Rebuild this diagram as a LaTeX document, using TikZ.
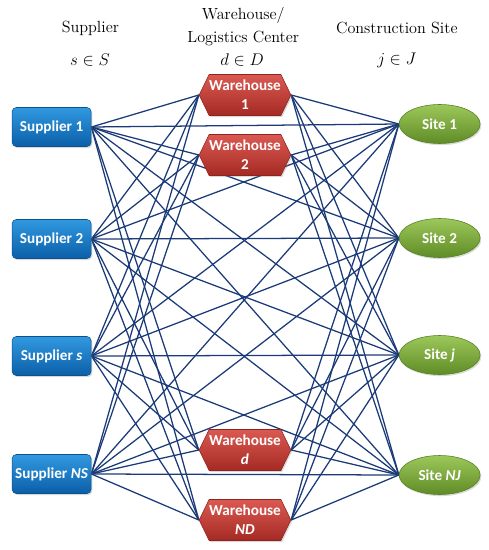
\documentclass[tikz,border=0pt]{standalone}
\usepackage{fontspec}
\newfontfamily\boxfont{Carlito}
\usepackage{tikz}
\usetikzlibrary{positioning}
\usetikzlibrary{shapes.geometric}
\usetikzlibrary{shapes.symbols}
\usetikzlibrary{shadows}
\usetikzlibrary{backgrounds}
\definecolor{linkblue}{HTML}{1B3A78}
\definecolor{supTop}{HTML}{3199E0}
\definecolor{supBot}{HTML}{0A5FA8}
\definecolor{supEdge}{HTML}{0B528F}
\definecolor{whTop}{HTML}{DA5A52}
\definecolor{whBot}{HTML}{A52A24}
\definecolor{whEdge}{HTML}{8E2420}
\definecolor{siteTop}{HTML}{9CC75A}
\definecolor{siteBot}{HTML}{5F8C26}
\definecolor{siteEdge}{HTML}{56801F}

\begin{document}
\begin{tikzpicture}[
  head/.style={font=\fontsize{11.5}{16.4}\selectfont, align=center},
  supplier/.style={draw=supEdge, rounded corners=3pt, top color=supTop, bottom color=supBot,
    minimum width=1.975cm, minimum height=0.975cm, inner sep=0pt, text=white,
    font=\boxfont\bfseries\fontsize{10.8}{12}\selectfont,
    drop shadow={opacity=0.3, shadow xshift=0.03cm, shadow yshift=-0.04cm}},
  warehouse/.style={draw=whEdge, shape=signal, signal to=east and west, signal pointer angle=128,
    top color=whTop, bottom color=whBot, minimum width=2.125cm, minimum height=1.025cm,
    inner sep=0pt, text=white, align=center,
    font=\boxfont\bfseries\fontsize{10.8}{13.5}\selectfont,
    drop shadow={opacity=0.3, shadow xshift=0.03cm, shadow yshift=-0.04cm}},
  site/.style={draw=siteEdge, ellipse, top color=siteTop, bottom color=siteBot,
    minimum width=2.025cm, minimum height=0.975cm, inner sep=0pt, text=white,
    font=\boxfont\bfseries\fontsize{10.8}{12}\selectfont,
    drop shadow={opacity=0.3, shadow xshift=0.03cm, shadow yshift=-0.04cm}},
  link/.style={draw=linkblue, line width=0.9pt}
]
\useasboundingbox (0,0) rectangle (12.2,-13.75);

% Column headings
\node[head] (hS) at (2.26,-0.7) {Supplier};
\node[head] (mS) at (2.25,-1.5) {$s \in S$};
\node[head] (hD) at (6.08,-0.66) {Warehouse/\\Logistics Center};
\node[head] (mD) at (6.05,-1.5) {$d \in D$};
\node[head] (hJ) at (9.92,-0.7) {Construction Site};
\node[head] (mJ) at (9.92,-1.5) {$j \in J$};

% Suppliers
\node[supplier] (S1) at (1.29,-3.175) {Supplier 1};
\node[supplier] (S2) at (1.29,-5.975) {Supplier 2};
\node[supplier] (S3) at (1.29,-8.9)   {Supplier \textit{s}};
\node[supplier] (S4) at (1.29,-11.85) {Supplier \textit{NS}};

% Warehouses
\node[warehouse] (W1) at (6.125,-2.375) {Warehouse\\1};
\node[warehouse] (W2) at (6.125,-3.875) {Warehouse\\2};
\node[warehouse] (W3) at (6.125,-11.25) {Warehouse\\\textit{d}};
\node[warehouse] (W4) at (6.125,-13.0)  {Warehouse\\\textit{ND}};

% Sites
\node[site] (J1) at (10.99,-3.1)   {Site 1};
\node[site] (J2) at (10.99,-5.95)  {Site 2};
\node[site] (J3) at (10.99,-8.875) {Site \textit{j}};
\node[site] (J4) at (10.99,-11.875) {Site \textit{NJ}};

% Links
\begin{scope}[on background layer]
\foreach \i in {1,...,4} {
  \foreach \k in {1,...,4} {
    \draw[link] (S\i.east) -- (W\k.west);
    \draw[link] (S\i.east) -- (J\k.west);
    \draw[link] (W\i.east) -- (J\k.west);
  }
}
\end{scope}
\end{tikzpicture}
\end{document}
